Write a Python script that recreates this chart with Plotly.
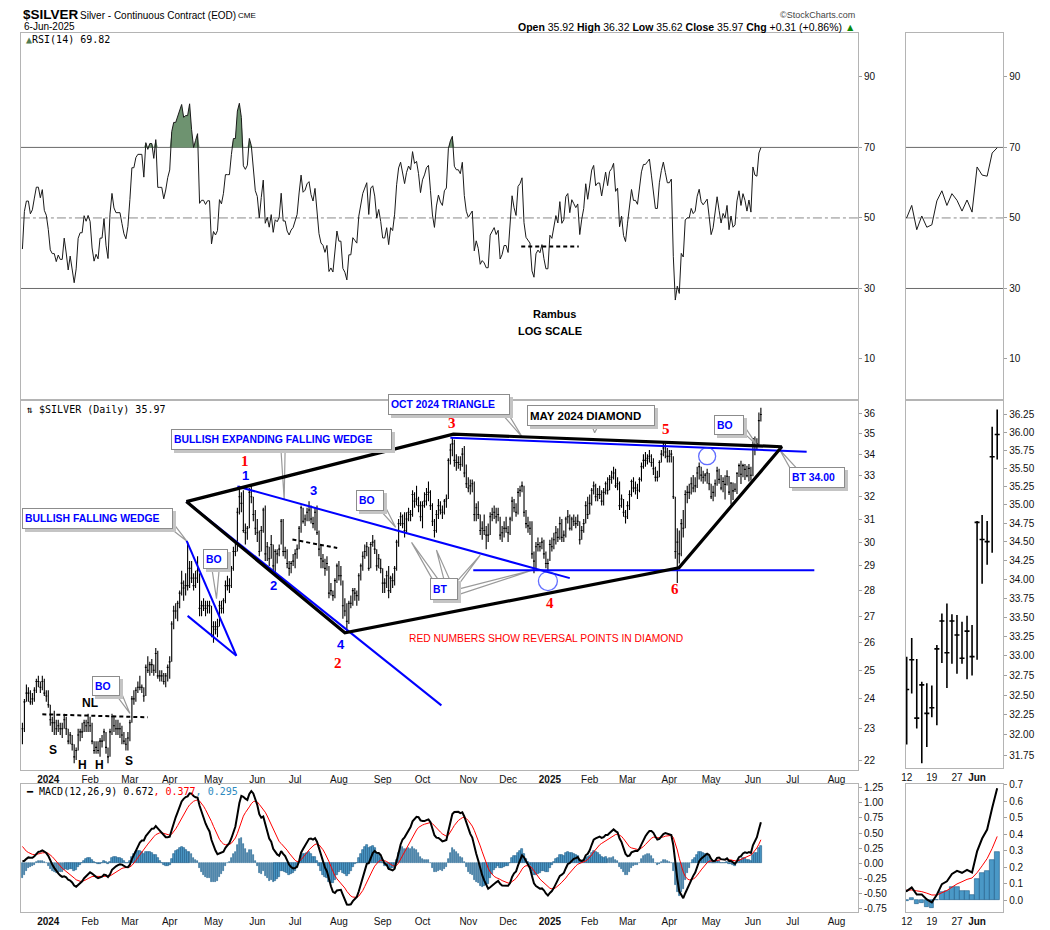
import numpy as np
import pandas as pd
import plotly.graph_objects as go

# ---------------------------------------------------------------- data
HOLIDAYS = ["2023-12-25", "2024-01-01", "2024-01-15", "2024-02-19", "2024-03-29",
            "2024-05-27", "2024-06-19", "2024-07-04", "2024-09-02", "2024-11-28",
            "2024-12-25", "2025-01-01", "2025-01-09", "2025-01-20", "2025-02-17",
            "2025-04-18", "2025-05-26", "2025-06-19", "2025-07-04"]
FIRST_DAY = "2023-12-12"
LAST_DAY = "2025-06-06"
AXIS_LAST_DAY = "2025-08-29"

# closes before the visible window (Sep-Dec 2023), only used to seed RSI / MACD
WARMUP_CLOSE = [
    24.3, 24.0, 23.5, 23.1, 23.1, 23.0, 23.1, 23.0, 23.0, 23.4, 23.4, 23.5, 23.6, 23.3, 23.7, 23.3, 23.0, 22.7, 22.6, 22.3,
    21.3, 20.9, 21.2, 21.4, 21.7, 22.0, 21.9, 22.1, 21.9, 22.5, 22.6, 22.8, 22.9, 23.2, 23.4, 23.1, 22.8, 22.9, 22.9, 23.2, 23.3, 22.9,
    23.1, 23.3, 23.4, 23.0, 22.4, 22.4, 22.7, 22.2, 22.3, 23.3, 23.5, 23.6, 23.8, 23.7, 23.9, 24.0, 24.6, 24.7, 25.1, 25.3, 25.3,
    25.6, 24.5, 24.0, 23.8, 23.6, 23.2, 22.8,
]

CLOSE = [
    # Dec 2023
    23.0, 23.9, 24.2, 24.2, 23.9, 24.0, 24.3, 24.6, 24.6, 24.4, 24.6, 24.2, 24.1,
    # Jan 2024
    23.8, 23.3, 23.2, 23.2, 23.0, 23.1, 23.0, 23.0, 23.3, 23.0, 22.6, 22.8, 22.5, 22.1, 22.3, 22.8, 22.9, 22.9, 23.2, 23.1, 23.2,
    # Feb
    23.1, 22.6, 22.3, 22.4, 22.3, 22.6, 22.6, 22.9, 22.4, 22.1, 22.9, 23.4, 23.1, 23.0, 23.0, 23.0, 22.8, 22.6, 22.5, 22.7,
    # Mar
    23.2, 24.0, 24.0, 24.3, 24.4, 24.4, 24.4, 24.1, 25.1, 25.0, 25.2, 25.2, 25.0, 25.6, 24.8, 24.8, 24.8, 24.6, 24.8, 25.1,
    # Apr
    25.3, 26.7, 27.2, 27.2, 27.5, 27.9, 28.3, 28.1, 28.2, 28.2, 28.9, 28.5, 28.2, 28.5, 28.8, 27.3, 27.4, 27.4, 27.3, 27.4, 27.4, 26.3,
    # May
    26.6, 26.5, 26.6, 27.4, 27.3, 27.6, 28.2, 28.2, 28.2, 28.9, 29.6, 29.6, 31.3, 32.0, 31.7, 30.5, 30.4, 30.6, 32.2, 32.0, 31.2, 30.6,
    # Jun
    30.4, 29.6, 30.5, 31.4, 29.5, 29.8, 29.3, 29.9, 29.0, 29.6, 29.5, 29.7, 30.9, 29.6, 29.6, 29.1, 28.9, 29.1, 29.2,
    # Jul
    29.5, 29.7, 30.6, 31.5, 30.9, 31.0, 31.3, 31.4, 31.0, 30.8, 31.3, 30.4, 29.7, 29.3, 29.2, 28.9, 29.1, 27.9, 28.0, 27.8, 28.4, 29.0,
    # Aug
    28.6, 28.6, 27.4, 27.2, 26.8, 27.5, 27.5, 28.0, 27.9, 27.8, 28.6, 29.0, 29.4, 29.6, 29.8, 28.9, 29.9, 30.0, 29.7, 29.0, 29.3, 28.9,
    # Sep
    28.3, 28.3, 28.6, 28.0, 28.5, 28.4, 28.9, 30.0, 30.8, 31.1, 30.8, 30.5, 31.0, 31.3, 31.2, 32.1, 31.8, 31.9, 31.6, 31.1,
    # Oct
    31.6, 31.8, 32.1, 32.2, 31.6, 30.9, 30.5, 31.2, 31.6, 31.4, 31.3, 31.8, 31.9, 33.7, 34.2, 34.5, 33.7, 33.6, 33.6, 33.5, 34.0, 33.1, 32.6,
    # Nov
    32.4, 32.5, 32.6, 31.2, 31.5, 31.2, 30.5, 30.6, 30.5, 30.3, 30.3, 31.1, 31.2, 31.3, 31.1, 31.2, 30.3, 30.4, 30.6, 30.6,
    # Dec
    30.4, 31.0, 31.8, 31.5, 31.3, 32.2, 32.3, 32.5, 31.3, 30.8, 30.7, 30.6, 29.5, 29.2, 29.8, 29.9, 29.8, 30.0, 29.5, 29.1, 29.1,
    # Jan 2025
    29.9, 29.8, 30.1, 30.4, 30.2, 30.8, 30.2, 30.3, 31.0, 31.1, 30.6, 31.0, 30.9, 30.8, 30.9, 30.1, 30.5, 30.8, 31.6, 31.2,
    # Feb
    31.7, 32.3, 32.5, 32.0, 32.1, 32.1, 31.8, 32.2, 32.6, 32.3, 32.8, 32.9, 33.1, 32.5, 32.6, 31.6, 31.9, 31.3, 31.1,
    # Mar
    31.6, 32.1, 32.7, 32.4, 32.4, 32.3, 32.8, 33.4, 33.7, 33.7, 33.8, 33.9, 33.6, 33.3, 32.9, 32.9, 33.6, 34.0, 34.3, 34.1, 33.9,
    # Apr
    33.9, 34.0, 32.0, 29.6, 30.0, 29.5, 30.8, 30.6, 32.1, 32.2, 32.2, 32.6, 32.4, 32.5, 33.1, 33.4, 33.0, 32.9, 33.0, 33.1, 32.6,
    # May
    32.0, 32.2, 32.6, 33.2, 32.8, 32.4, 32.7, 32.57, 32.95, 32.21, 32.63, 32.27, 32.34, 33.09, 33.45, 33.04, 33.45, 33.27, 32.97, 33.32, 32.99,
    # Jun
    34.76, 34.53, 34.50, 35.66, 35.97,
]

HIGH = [
    23.2, 24.0, 24.5, 24.4, 24.3, 24.2, 24.4, 24.7, 24.8, 24.6, 24.8, 24.7, 24.3,
    24.3, 23.8, 23.4, 23.6, 23.3, 23.3, 23.2, 23.2, 23.5, 23.4, 23.0, 22.9, 22.8, 22.5, 22.4, 23.0, 23.0, 23.2, 23.3, 23.3, 23.5,
    23.4, 23.2, 22.6, 22.6, 22.6, 22.7, 22.8, 23.0, 22.9, 22.4, 23.0, 23.5, 23.4, 23.3, 23.3, 23.2, 23.1, 22.9, 22.7, 22.9,
    23.3, 24.1, 24.3, 24.4, 24.6, 24.8, 24.5, 24.4, 25.2, 25.5, 25.3, 25.4, 25.2, 25.8, 25.7, 25.0, 25.0, 24.9, 24.9, 25.2,
    25.5, 26.8, 27.4, 27.5, 27.6, 28.0, 28.8, 28.4, 28.7, 30.0, 29.2, 29.2, 28.7, 28.8, 29.4, 28.7, 27.6, 27.7, 27.6, 27.6, 27.6, 27.4,
    26.8, 26.8, 26.9, 27.6, 27.6, 27.7, 28.4, 28.6, 28.5, 29.0, 29.8, 30.0, 31.5, 32.5, 32.2, 32.3, 30.8, 30.7, 32.4, 32.5, 32.0, 31.4,
    31.0, 30.5, 30.7, 31.5, 31.6, 30.0, 29.8, 30.3, 29.9, 29.7, 29.7, 29.9, 31.0, 31.0, 29.8, 29.7, 29.2, 29.2, 29.5,
    29.7, 29.9, 30.7, 31.6, 31.5, 31.2, 31.5, 31.8, 31.6, 31.1, 31.5, 31.6, 30.5, 29.9, 29.5, 29.3, 29.4, 29.0, 28.3, 28.0, 28.5, 29.1,
    29.2, 29.0, 28.4, 27.7, 27.5, 27.6, 27.8, 28.1, 28.1, 28.0, 28.7, 29.1, 29.6, 29.9, 30.0, 29.8, 30.0, 30.3, 30.1, 29.7, 29.5, 29.3,
    28.9, 28.5, 28.8, 29.0, 28.6, 28.7, 29.0, 30.1, 31.0, 31.3, 31.2, 31.3, 31.3, 31.5, 31.4, 32.3, 32.2, 32.5, 32.0, 31.8,
    31.8, 32.2, 32.4, 32.7, 32.3, 31.7, 31.0, 31.4, 31.9, 31.8, 31.6, 31.9, 32.1, 33.8, 34.5, 34.8, 34.7, 34.0, 33.9, 33.9, 34.3, 34.4, 33.5,
    32.9, 32.8, 32.8, 32.7, 31.7, 31.8, 31.2, 30.9, 31.2, 30.7, 30.8, 31.3, 31.5, 31.6, 31.5, 31.5, 31.1, 30.7, 30.9, 31.1,
    30.7, 31.1, 32.0, 31.9, 31.7, 32.4, 32.5, 32.7, 32.5, 31.4, 31.1, 30.9, 30.9, 29.6, 30.0, 30.2, 30.0, 30.2, 30.1, 29.6, 29.3,
    30.1, 30.2, 30.4, 30.7, 30.6, 31.1, 31.0, 30.5, 31.1, 31.4, 31.2, 31.1, 31.2, 31.1, 31.2, 30.9, 30.7, 31.0, 31.8, 32.0,
    32.1, 32.4, 32.7, 32.6, 32.4, 32.5, 32.3, 32.4, 32.7, 32.9, 33.0, 33.2, 33.4, 33.3, 32.9, 32.7, 32.1, 31.9, 31.4,
    31.8, 32.3, 32.8, 32.9, 32.7, 32.6, 32.9, 33.6, 34.0, 34.1, 34.0, 34.2, 34.0, 33.8, 33.4, 33.2, 33.7, 34.2, 34.6, 34.5, 34.3,
    34.2, 34.2, 33.9, 32.0, 30.6, 30.5, 31.0, 31.4, 32.3, 32.5, 32.6, 32.9, 33.0, 32.9, 33.4, 33.6, 33.4, 33.2, 33.1, 33.3, 33.1,
    32.6, 32.5, 32.8, 33.4, 33.3, 33.0, 32.9, 32.99, 33.23, 32.96, 32.67, 32.65, 32.62, 33.14, 33.55, 33.68, 33.54, 33.53, 33.44, 33.52, 33.40,
    34.78, 34.86, 34.78, 36.08, 36.32,
]

LOW = [
    22.5, 22.9, 23.9, 23.9, 23.8, 23.8, 23.9, 24.2, 24.4, 24.2, 24.3, 24.1, 23.9,
    23.7, 23.1, 22.9, 22.8, 22.8, 22.9, 22.8, 22.7, 23.0, 22.8, 22.5, 22.5, 22.3, 21.9, 22.0, 22.3, 22.6, 22.7, 22.9, 22.9, 22.9,
    22.9, 22.5, 22.2, 22.2, 22.2, 22.1, 22.4, 22.6, 22.2, 21.9, 22.1, 22.8, 22.9, 22.8, 22.8, 22.7, 22.5, 22.5, 22.3, 22.3,
    22.6, 23.2, 23.8, 23.9, 24.2, 24.3, 24.2, 23.9, 24.1, 24.9, 24.8, 24.9, 24.8, 24.9, 24.7, 24.6, 24.6, 24.5, 24.4, 24.6,
    24.7, 25.3, 26.5, 26.9, 26.8, 27.3, 27.8, 27.6, 27.8, 28.0, 28.1, 28.3, 28.0, 28.1, 28.3, 27.0, 27.0, 27.2, 27.0, 27.1, 27.1, 26.2,
    26.0, 26.3, 26.2, 26.6, 27.1, 27.1, 27.5, 28.0, 27.9, 28.1, 28.8, 29.4, 29.6, 31.2, 31.3, 30.4, 29.9, 30.1, 30.6, 31.7, 30.9, 30.3,
    30.0, 29.4, 29.6, 30.4, 29.2, 29.2, 29.0, 29.3, 28.7, 28.7, 29.1, 29.4, 29.9, 29.4, 29.3, 28.9, 28.6, 28.7, 29.0,
    28.9, 29.3, 29.7, 30.4, 30.8, 30.7, 30.9, 30.9, 30.8, 30.6, 30.5, 30.3, 29.4, 28.9, 28.9, 28.6, 28.8, 27.7, 27.8, 27.6, 27.7, 28.3,
    28.4, 28.2, 26.9, 27.0, 26.4, 26.7, 27.3, 27.4, 27.6, 27.4, 27.6, 28.4, 28.8, 29.3, 29.4, 28.8, 28.9, 29.8, 29.5, 28.8, 28.9, 28.7,
    27.9, 27.9, 28.1, 27.7, 27.9, 28.1, 28.2, 28.8, 29.8, 30.7, 30.6, 30.2, 30.4, 30.9, 30.9, 31.1, 31.5, 31.6, 31.3, 30.9,
    30.6, 31.5, 31.6, 31.8, 31.4, 30.7, 30.2, 30.4, 31.0, 31.2, 31.0, 31.2, 31.5, 31.9, 33.5, 33.9, 33.4, 33.2, 33.3, 33.2, 33.4, 32.9, 32.4,
    32.2, 32.1, 32.2, 30.9, 30.9, 31.0, 30.3, 30.1, 30.3, 29.7, 30.0, 30.3, 30.9, 31.0, 30.8, 30.9, 30.1, 30.0, 30.2, 30.4,
    30.0, 30.3, 30.9, 31.3, 31.1, 31.2, 32.0, 32.2, 31.1, 30.6, 30.4, 30.3, 29.3, 28.7, 28.9, 29.6, 29.6, 29.7, 29.3, 28.9, 28.8,
    29.2, 29.6, 29.7, 29.9, 30.0, 30.1, 30.0, 30.0, 30.2, 30.8, 30.5, 30.5, 30.7, 30.6, 30.7, 29.9, 30.1, 30.4, 30.8, 31.0,
    31.2, 31.6, 32.1, 31.8, 31.8, 31.9, 31.6, 31.6, 32.1, 32.1, 32.3, 32.6, 32.8, 32.4, 32.3, 31.4, 31.5, 31.1, 30.8,
    31.0, 31.4, 32.0, 32.2, 32.1, 31.9, 32.2, 32.7, 33.3, 33.4, 33.5, 33.6, 33.4, 33.0, 32.7, 32.7, 32.9, 33.6, 33.9, 33.8, 33.6,
    33.6, 33.6, 31.9, 29.3, 28.3, 29.1, 29.4, 30.2, 30.6, 31.7, 31.9, 32.1, 32.2, 32.2, 32.4, 32.8, 32.7, 32.6, 32.7, 32.6, 32.3,
    31.9, 31.8, 32.0, 32.5, 32.6, 32.3, 32.2, 31.88, 32.52, 32.08, 31.65, 31.85, 32.22, 32.12, 32.91, 32.59, 32.90, 32.77, 32.90, 32.70, 32.75,
    32.95, 33.94, 34.19, 34.35, 35.62,
]

SMALL_TICK_DATES = ["2025-05-12", "2025-05-19", "2025-05-27", "2025-06-02"]
SMALL_TICK_TEXT = ["12", "19", "27", "<b>Jun</b>"]
SMALL_FIRST_DATE = "2025-05-12"

RSI_TICKS = [10, 30, 50, 70, 90]
PRICE_TICKS = list(range(22, 37))
MACD_TICKS = [-0.75, -0.5, -0.25, 0.0, 0.25, 0.5, 0.75, 1.0, 1.25]
SMALL_PRICE_TICKS = [31.75, 32.0, 32.25, 32.5, 32.75, 33.0, 33.25, 33.5, 33.75,
                     34.0, 34.25, 34.5, 34.75, 35.0, 35.25, 35.5, 35.75, 36.0, 36.25]
SMALL_MACD_TICKS = [0.0, 0.1, 0.2, 0.3, 0.4, 0.5, 0.6, 0.7]

# ---------------------------------------------------------------- styling
W, H = 1050, 930
BLUE = "#0000ff"
RED = "#ff0000"
BLACK = "#000000"
BORDER = "#b4b4b4"
SANS = "Liberation Sans, Arial, sans-serif"
MONO = "DejaVu Sans Mono, monospace"
SERIF = "Liberation Serif, Times New Roman, serif"
HIST_FILL = "#4a98c6"
HIST_EDGE = "#1f5a86"
RSI_FILL = "#6e9370"


def px_x(p):
    return p / W


def px_y(p):
    return 1 - p / H


MAIN_X = [px_x(16), px_x(857)]
SMALL_X = [px_x(905), px_x(1003)]
RSI_Y = [px_y(398), px_y(28)]
PRICE_Y = [px_y(770), px_y(398)]
SMALL_PRICE_Y = [px_y(768), px_y(398)]
MACD_Y = [px_y(913), px_y(784)]

# ---------------------------------------------------------------- dates / positions
cbd = pd.offsets.CustomBusinessDay(holidays=HOLIDAYS)
all_days = pd.date_range(FIRST_DAY, AXIS_LAST_DAY, freq=cbd)
dates = all_days[all_days <= pd.Timestamp(LAST_DAY)]
n = len(CLOSE)
assert len(dates) == n == len(HIGH) == len(LOW), (len(dates), n, len(HIGH), len(LOW))
idx = np.arange(n)
day_pos = {d.strftime("%Y-%m-%d"): i for i, d in enumerate(all_days)}

month_vals, month_text = [], []
for i in range(1, len(all_days)):
    d = all_days[i]
    if d.month != all_days[i - 1].month:
        month_vals.append(i)
        month_text.append(f"<b>{d.year}</b>" if d.month == 1 else d.strftime("%b"))

small_vals = [day_pos[d] for d in SMALL_TICK_DATES]
s0 = day_pos[SMALL_FIRST_DATE]
SMALL_RANGE = [s0 - 0.2, n + 0.2]
MAIN_RANGE = [-0.75, 419.75]

# ---------------------------------------------------------------- indicators
allc = np.array(WARMUP_CLOSE + CLOSE, dtype=float)


def wilder_rsi(c, period=14):
    d = np.diff(c)
    g = np.where(d > 0, d, 0.0)
    l = np.where(d < 0, -d, 0.0)
    out = np.full(len(c), np.nan)
    ag, al = g[:period].mean(), l[:period].mean()
    out[period] = 100 - 100 / (1 + ag / al)
    for i in range(period + 1, len(c)):
        ag = (ag * (period - 1) + g[i - 1]) / period
        al = (al * (period - 1) + l[i - 1]) / period
        out[i] = 100 - 100 / (1 + ag / al)
    return out


rsi = wilder_rsi(allc)[-n:]
ser = pd.Series(allc)
macd_all = ser.ewm(span=12, adjust=False).mean() - ser.ewm(span=26, adjust=False).mean()
sig_all = macd_all.ewm(span=9, adjust=False).mean()
macd = macd_all.values[-n:]
sig = sig_all.values[-n:]
hist = macd - sig

# ---------------------------------------------------------------- chart annotations (data space)
DIAMOND = [(82.35, 31.78), (216.5, 34.98), (381.5, 34.36), (329.85, 28.92), (162.0, 26.37), (82.35, 31.78)]
BLUE_LINES = [
    [(108.0, 32.47), (275.0, 28.5)],
    [(82.35, 31.78), (210.5, 23.78)],
    [(82.5, 30.05), (107.5, 25.52)],
    [(83.0, 27.01), (107.5, 25.52)],
    [(215.0, 34.8), (394.0, 34.12)],
    [(226.5, 28.82), (397.85, 28.82)],
]
DASHED_LINES = [[(10.0, 23.48), (63.0, 23.38)], [(135.65, 30.11), (158.15, 29.75)]]
BLUE_CIRCLES = [(264.0, 28.38, 19), (344.0, 33.9, 17)]
RSI_DASH = [(250.6, 41.9), (279.5, 41.9)]

CALLOUTS = [
    ("BULLISH EXPANDING FALLING WEDGE", 130.25, 34.72, 215, 15, BLUE, 10.4),
    ("BULLISH FALLING WEDGE", 37.5, 31.01, 145, 15, BLUE, 10.4),
    ("BO", 97.25, 29.28, 19, 14, BLUE, 10.4),
    ("BO", 174.5, 31.85, 22, 15, BLUE, 10.4),
    ("BT", 212.0, 28.07, 22, 16, BLUE, 10.4),
    ("OCT 2024 TRIANGLE", 214.5, 36.49, 116, 15, BLUE, 10.4),
    ("MAY 2024 DIAMOND", 285.75, 35.92, 122, 15, BLACK, 11.5),
    ("BO", 355.0, 35.44, 24, 14, BLUE, 10.4),
    ("BT 34.00", 399.0, 32.9, 50, 15, BLUE, 10.4),
    ("BO", 42.0, 24.43, 22, 14, BLUE, 10.4),
]
TAILS = [
    [(129.8, 34.36), (132.0, 34.36), (131.5, 31.88)],
    [(73.0, 30.68), (75.0, 30.9), (82.5, 30.05)],
    [(95.0, 28.99), (99.0, 28.99), (97.5, 27.68)],
    [(178.0, 31.56), (181.0, 31.78), (187.5, 30.64)],
    [(206.5, 28.38), (209.5, 28.38), (195.5, 29.99)],
    [(212.0, 28.38), (215.0, 28.38), (208.0, 29.66)],
    [(217.5, 28.3), (217.5, 28.07), (230.0, 29.45)],
    [(217.5, 28.03), (217.5, 27.8), (256.5, 28.83)],
    [(240.0, 36.1), (243.5, 36.1), (251.0, 34.85)],
    [(285.5, 35.54), (290.0, 35.54), (287.5, 35.05)],
    [(360.5, 35.71), (360.5, 35.21), (369.0, 34.44)],
    [(386.0, 33.27), (389.5, 33.27), (380.5, 34.2)],
    [(46.5, 24.19), (48.0, 24.5), (54.0, 23.51)],
]
RED_LABELS = [("1", 112, 33.68), ("2", 158.5, 25.27), ("3", 216, 35.54),
              ("4", 265, 27.51), ("5", 323.5, 35.24), ("6", 328, 28.07)]
BLUE_LABELS = [("1", 112, 32.98), ("2", 126, 28.22), ("3", 146, 32.28), ("4", 160, 25.92)]
HS_LABELS = [("NL", 34, 23.85), ("S", 15.5, 22.31), ("H", 30, 21.84), ("H", 38.5, 21.84), ("S", 53.5, 21.97)]
RED_NOTE = ("RED NUMBERS SHOW REVERSAL POINTS IN DIAMOND", 263, 26.14)
RSI_NOTES = [("Rambus", 267.5, 22.8), ("LOG SCALE", 265, 18.0)]

# ---------------------------------------------------------------- figure
fig = go.Figure()


def rsi_traces(xa, ya, sl):
    xs = idx[sl]
    r = rsi[sl]
    fig.add_trace(go.Scatter(x=xs, y=np.full(len(xs), 70.0), mode="lines", line=dict(width=0),
                             xaxis=xa, yaxis=ya, hoverinfo="skip"))
    fig.add_trace(go.Scatter(x=xs, y=np.maximum(r, 70.0), mode="lines", line=dict(width=0),
                             fill="tonexty", fillcolor=RSI_FILL, xaxis=xa, yaxis=ya, hoverinfo="skip"))
    fig.add_trace(go.Scatter(x=xs, y=r, mode="lines", line=dict(color="#1a1a1a", width=1),
                             xaxis=xa, yaxis=ya, hoverinfo="skip"))


def macd_traces(xa, ya, sl, bw, lw):
    xs = idx[sl]
    fig.add_trace(go.Bar(x=xs, y=hist[sl], width=bw, marker=dict(color=HIST_FILL, line=dict(color=HIST_EDGE, width=0.6)),
                         xaxis=xa, yaxis=ya, hoverinfo="skip"))
    fig.add_trace(go.Scatter(x=xs, y=sig[sl], mode="lines", line=dict(color=RED, width=1),
                             xaxis=xa, yaxis=ya, hoverinfo="skip"))
    fig.add_trace(go.Scatter(x=xs, y=macd[sl], mode="lines", line=dict(color=BLACK, width=lw),
                             xaxis=xa, yaxis=ya, hoverinfo="skip"))


full = slice(0, n)
small = slice(s0 - 1, n)

rsi_traces("x", "y", full)
rsi_traces("x4", "y4", small)

# price bars
fig.add_trace(go.Ohlc(x=idx, open=CLOSE, high=HIGH, low=LOW, close=CLOSE, tickwidth=0.5,
                      increasing=dict(line=dict(color=BLACK, width=1.1)),
                      decreasing=dict(line=dict(color=BLACK, width=1.1)),
                      xaxis="x2", yaxis="y2", hoverinfo="skip"))
fig.add_trace(go.Ohlc(x=idx[s0:], open=CLOSE[s0:], high=HIGH[s0:], low=LOW[s0:], close=CLOSE[s0:], tickwidth=0.5,
                      increasing=dict(line=dict(color=BLACK, width=1.6)),
                      decreasing=dict(line=dict(color=BLACK, width=1.6)),
                      xaxis="x5", yaxis="y5", hoverinfo="skip"))

# callout tails
for t in TAILS:
    xs = [p[0] for p in t] + [t[0][0]]
    ys = [p[1] for p in t] + [t[0][1]]
    fig.add_trace(go.Scatter(x=xs, y=ys, mode="lines", fill="toself", fillcolor="white",
                             line=dict(color="#9a9a9a", width=1.2), xaxis="x2", yaxis="y2", hoverinfo="skip"))

# trend lines
for seg in BLUE_LINES:
    fig.add_trace(go.Scatter(x=[p[0] for p in seg], y=[p[1] for p in seg], mode="lines",
                             line=dict(color=BLUE, width=2), xaxis="x2", yaxis="y2", hoverinfo="skip"))
fig.add_trace(go.Scatter(x=[p[0] for p in DIAMOND], y=[p[1] for p in DIAMOND], mode="lines",
                         line=dict(color=BLACK, width=3.2), xaxis="x2", yaxis="y2", hoverinfo="skip"))
for seg in DASHED_LINES:
    fig.add_trace(go.Scatter(x=[p[0] for p in seg], y=[p[1] for p in seg], mode="lines",
                             line=dict(color=BLACK, width=2, dash="4px,3px"), xaxis="x2", yaxis="y2", hoverinfo="skip"))
fig.add_trace(go.Scatter(x=[c[0] for c in BLUE_CIRCLES], y=[c[1] for c in BLUE_CIRCLES], mode="markers",
                         marker=dict(symbol="circle-open", size=[c[2] for c in BLUE_CIRCLES], color="#2030ff",
                                     line=dict(width=1.3)), xaxis="x2", yaxis="y2", hoverinfo="skip"))
fig.add_trace(go.Scatter(x=[p[0] for p in RSI_DASH], y=[p[1] for p in RSI_DASH], mode="lines",
                         line=dict(color=BLACK, width=2, dash="4px,3px"), xaxis="x", yaxis="y", hoverinfo="skip"))

macd_traces("x3", "y3", full, 0.8, 2)
macd_traces("x6", "y6", small, 0.92, 2)

# ---------------------------------------------------------------- axes
TICKFONT = dict(family=SANS, size=10, color="#111")


def x_axis(domain, anchor, rng, vals=None, text=None):
    d = dict(domain=domain, anchor=anchor, range=rng, showgrid=False, zeroline=False, showline=True,
             mirror=True, linecolor=BORDER, linewidth=1, ticks="", fixedrange=True, tickfont=TICKFONT,
             rangeslider=dict(visible=False))
    if vals is None:
        d["showticklabels"] = False
    else:
        d.update(tickmode="array", tickvals=vals, ticktext=text, showticklabels=True)
    return d


def y_axis(domain, anchor, rng, vals, text=None, log=False):
    d = dict(domain=domain, anchor=anchor, range=rng, side="right", showgrid=False, zeroline=False,
             showline=True, mirror=True, linecolor=BORDER, linewidth=1, ticks="outside", ticklen=3,
             tickcolor="#a0a0a0", tickfont=TICKFONT, tickmode="array", tickvals=vals, fixedrange=True)
    if text is not None:
        d["ticktext"] = text
    if log:
        d["type"] = "log"
    return d


layout_axes = dict(
    xaxis=x_axis(MAIN_X, "y", MAIN_RANGE),
    yaxis=y_axis(RSI_Y, "x", [-1.75, 102.5], RSI_TICKS),
    xaxis2=x_axis(MAIN_X, "y2", MAIN_RANGE, month_vals, month_text),
    yaxis2=y_axis(PRICE_Y, "x2", [np.log10(21.69), np.log10(36.70)], PRICE_TICKS, [str(v) for v in PRICE_TICKS], log=True),
    xaxis3=x_axis(MAIN_X, "y3", MAIN_RANGE, month_vals, month_text),
    yaxis3=y_axis(MACD_Y, "x3", [-0.817, 1.317], MACD_TICKS, [f"{v:.2f}" for v in MACD_TICKS]),
    xaxis4=x_axis(SMALL_X, "y4", SMALL_RANGE),
    yaxis4=y_axis(RSI_Y, "x4", [-1.75, 102.5], RSI_TICKS),
    xaxis5=x_axis(SMALL_X, "y5", SMALL_RANGE, small_vals, SMALL_TICK_TEXT),
    yaxis5=y_axis(SMALL_PRICE_Y, "x5", [np.log10(31.59), np.log10(36.45)], SMALL_PRICE_TICKS,
                  [f"{v:.2f}" for v in SMALL_PRICE_TICKS], log=True),
    xaxis6=x_axis(SMALL_X, "y6", SMALL_RANGE, small_vals, SMALL_TICK_TEXT),
    yaxis6=y_axis(MACD_Y, "x6", [-0.072, 0.706], SMALL_MACD_TICKS, [f"{v:.1f}" for v in SMALL_MACD_TICKS]),
)

# RSI reference lines
shapes = []
for xr, yr in (("x domain", "y"), ("x4 domain", "y4")):
    for lvl, dash, col in ((70, "solid", "#6a6a6a"), (30, "solid", "#6a6a6a"), (50, "dashdot", "#8a8a8a")):
        shapes.append(dict(type="line", xref=xr, yref=yr, x0=0, x1=1, y0=lvl, y1=lvl,
                           line=dict(color=col, width=1, dash=dash), layer="below"))

# ---------------------------------------------------------------- text
ann = []


def paper_text(text, x, y, size, family=SANS, color=BLACK, xanchor="left", yanchor="middle"):
    ann.append(dict(text=text, x=px_x(x), y=px_y(y), xref="paper", yref="paper", showarrow=False,
                    xanchor=xanchor, yanchor=yanchor, font=dict(family=family, size=size, color=color)))


paper_text("<b>$SILVER</b>", 16, 10, 13.5)
paper_text("Silver - Continuous Contract (EOD)", 73, 11, 10)
paper_text("CME", 232, 11, 8)
paper_text("©StockCharts.com", 856, 10, 9, SANS, "#444", xanchor="right")
paper_text("6-Jun-2025", 17, 22, 10)
paper_text("<b>Open</b> 35.92 <b>High</b> 36.32 <b>Low</b> 35.62 <b>Close</b> 35.97 <b>Chg</b> +0.31 (+0.86%) "
           "<span style='color:#0a8a0a'>▲</span>", 856, 22, 10.5, xanchor="right")
paper_text("<span style='color:#4f7a50'>▲</span>RSI(14) 69.82", 19, 35, 10, MONO)
paper_text("⇅ $SILVER (Daily) 35.97", 19, 407, 10, MONO)
paper_text("<b>━</b> MACD(12,26,9) 0.672<span style='color:#ff0000'>, 0.377</span>"
           "<span style='color:#2e8bc0'>, 0.295</span>", 19, 792, 10, MONO)

for txt, x, pr, bw, bh, col, fs in CALLOUTS:
    base = dict(x=x, y=np.log10(pr), xref="x2", yref="y2", showarrow=False,
                xanchor="center", yanchor="middle", width=bw, height=bh, align="left", borderpad=2,
                borderwidth=1)
    shadow = dict(base, text="\u00a0", bgcolor="#c4c4c4", bordercolor="#c4c4c4",
                  font=dict(family=SANS, size=fs, color="#c4c4c4"), xshift=3, yshift=-3)
    main = dict(base, text=f"<b>{txt}</b>", bgcolor="white", bordercolor="#8c8c8c",
                font=dict(family=SANS, size=fs, color=col))
    ann.append(shadow)
    ann.append(main)

for txt, x, pr in RED_LABELS:
    ann.append(dict(text=f"<b>{txt}</b>", x=x, y=np.log10(pr), xref="x2", yref="y2", showarrow=False,
                    font=dict(family=SERIF, size=15, color=RED)))
for txt, x, pr in BLUE_LABELS:
    ann.append(dict(text=f"<b>{txt}</b>", x=x, y=np.log10(pr), xref="x2", yref="y2", showarrow=False,
                    font=dict(family=SANS, size=13, color=BLUE)))
for txt, x, pr in HS_LABELS:
    ann.append(dict(text=f"<b>{txt}</b>", x=x, y=np.log10(pr), xref="x2", yref="y2", showarrow=False,
                    font=dict(family=SANS, size=12, color=BLACK)))
ann.append(dict(text=RED_NOTE[0], x=RED_NOTE[1], y=np.log10(RED_NOTE[2]), xref="x2", yref="y2",
                showarrow=False, font=dict(family=SANS, size=10.3, color=RED)))
for txt, x, v in RSI_NOTES:
    ann.append(dict(text=f"<b>{txt}</b>", x=x, y=v, xref="x", yref="y", showarrow=False,
                    font=dict(family=SANS, size=11, color=BLACK)))

fig.update_layout(
    width=W, height=H, margin=dict(l=0, r=0, t=0, b=0), paper_bgcolor="white", plot_bgcolor="white",
    showlegend=False, shapes=shapes, annotations=ann, font=dict(family=SANS), bargap=0,
    **layout_axes,
)

fig.write_html("out.html")
